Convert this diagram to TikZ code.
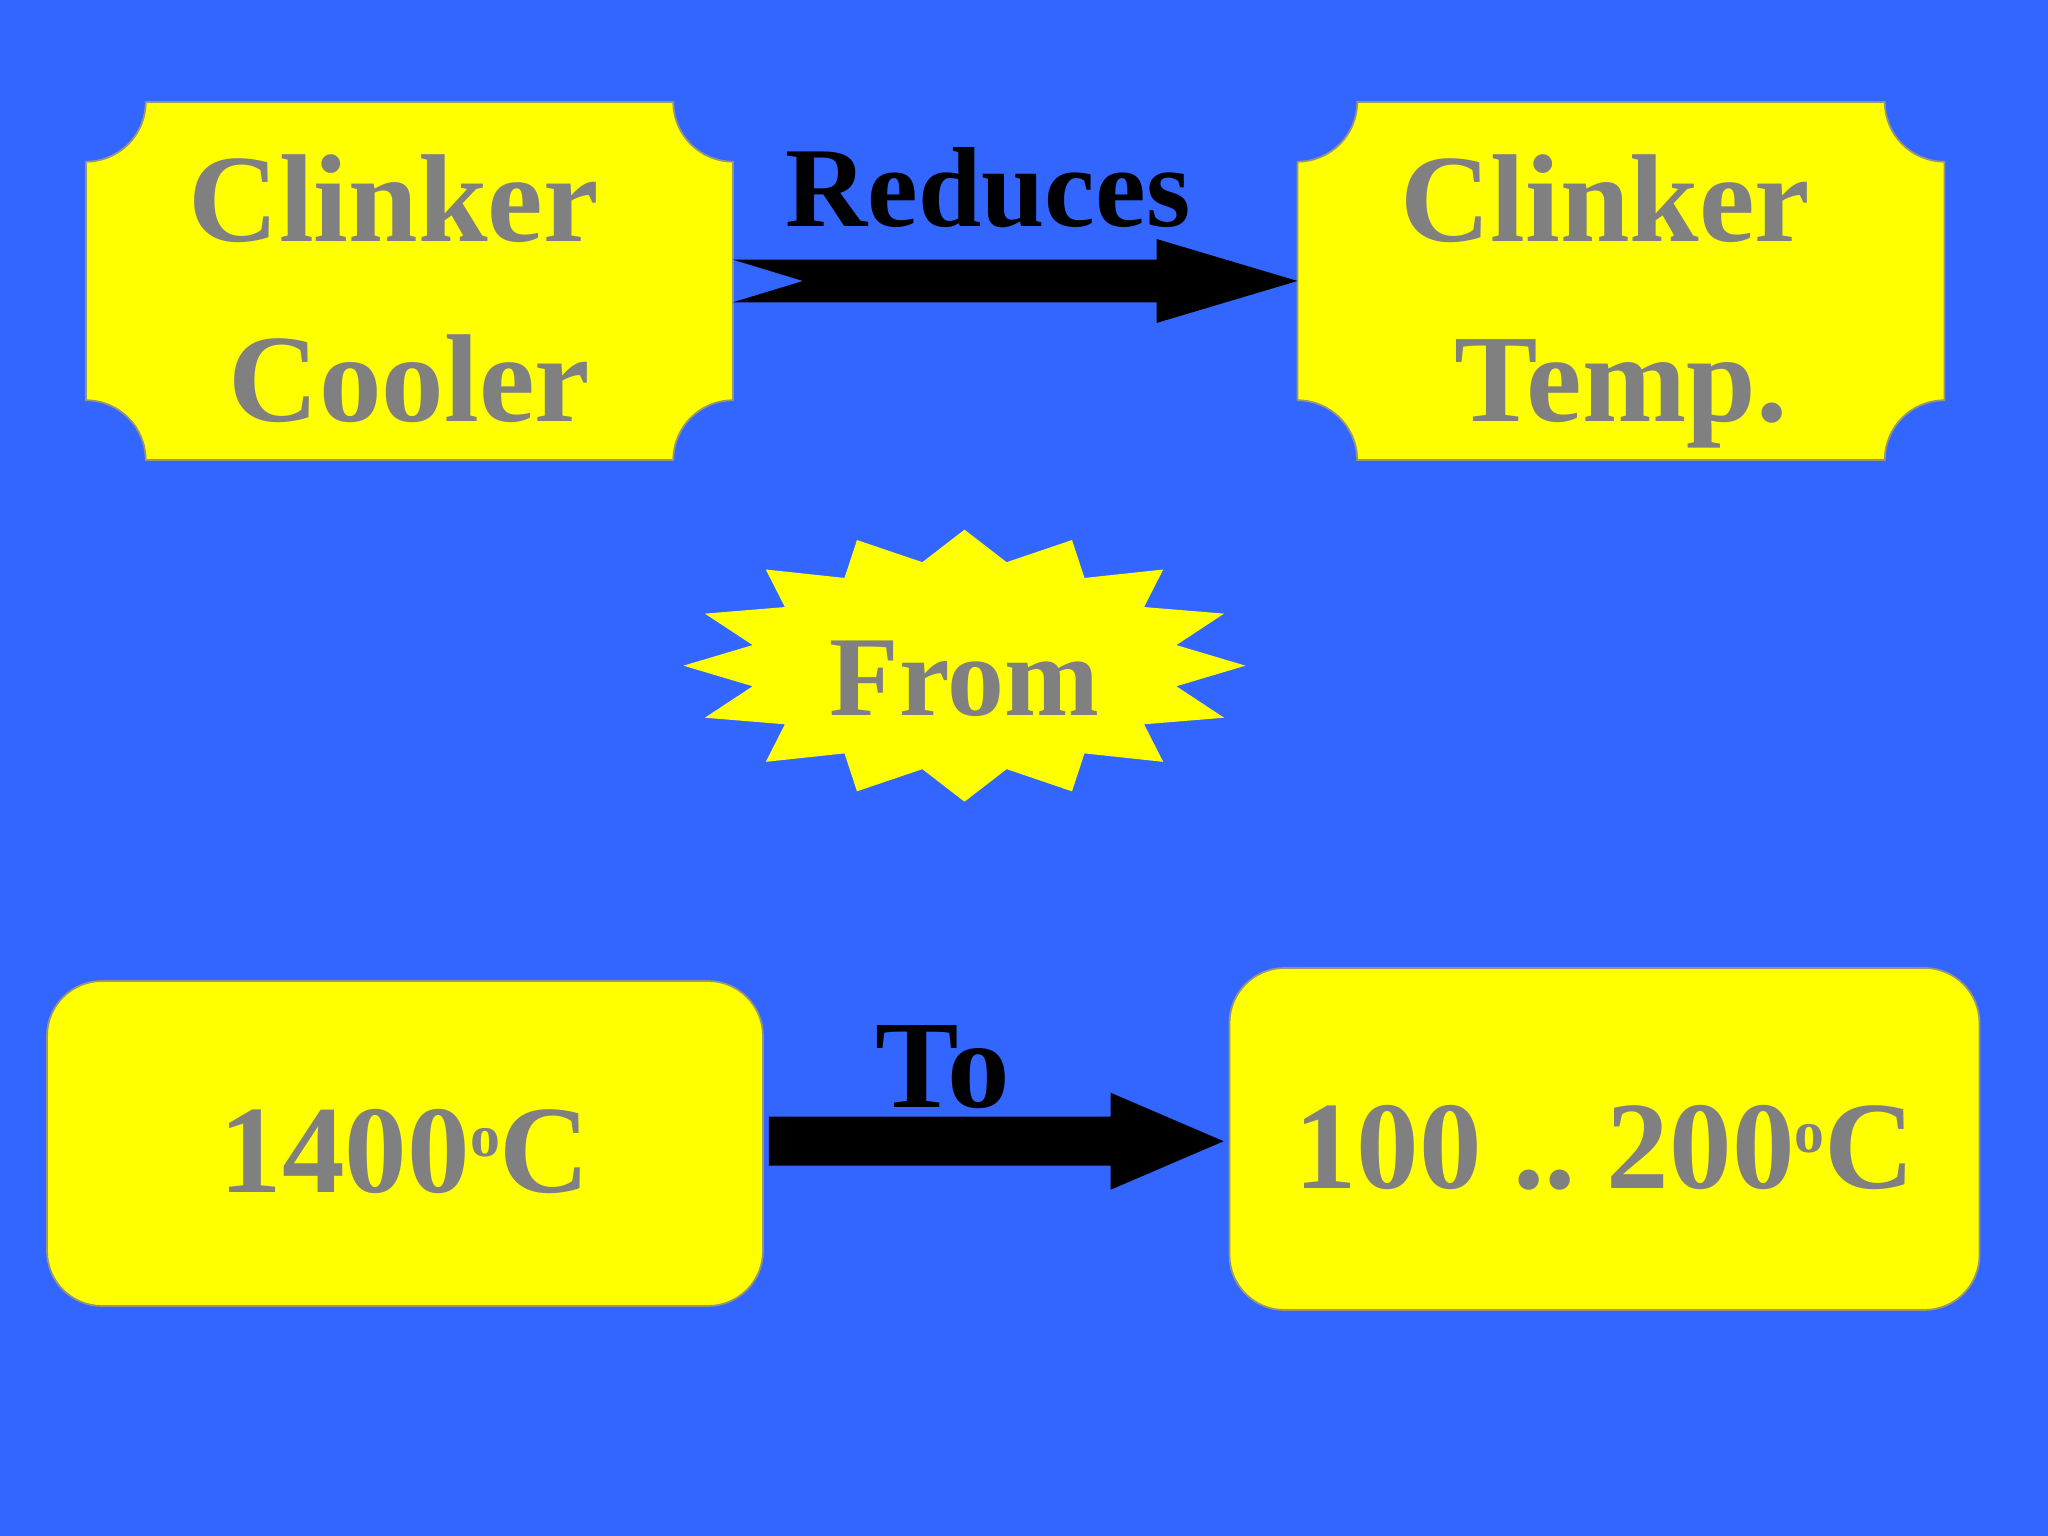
\documentclass[tikz,border=0pt]{standalone}
\usepackage{fontspec}
\setmainfont{Liberation Serif}
\usetikzlibrary{positioning,calc,backgrounds}

\definecolor{slideblue}{RGB}{51,102,255}
\definecolor{boxyellow}{RGB}{255,255,0}
\definecolor{textgrey}{RGB}{128,128,128}
\definecolor{edgegrey}{RGB}{150,150,120}

\begin{document}
\begin{tikzpicture}[auto,
                    node distance=2cm,
                    plaque node/.style={rectangle,inner sep=0pt,outer sep=0pt,
                                        minimum width=6.47cm,minimum height=3.58cm,
                                        align=center,text=textgrey,
                                        text height=2.81cm,text depth=0pt,
                                        font=\fontsize{35.6}{51.2}\selectfont\bfseries},
                    plaque/.style={fill=boxyellow,draw=edgegrey,line width=0.5pt},
                    temp node/.style={rectangle,rounded corners=0.55cm,fill=boxyellow,
                                      draw=edgegrey,line width=0.5pt,inner sep=0pt,
                                      text=textgrey,text height=0.99cm,text depth=0pt,
                                      font=\fontsize{35.6}{42}\selectfont\bfseries\frenchspacing},
                    arrow label/.style={anchor=base,inner sep=0pt,
                                        font=\fontsize{32.4}{38}\selectfont\bfseries},
                    block arrow/.style={fill=black},
                    burst fill/.style={fill=boxyellow}]

  \useasboundingbox (0,0) rectangle (20.48,15.36);

  \node[plaque node] (cooler) at (4.095,12.55) {Clinker\hphantom{\ }\\Cooler};
  \node[plaque node] (temp) [right=5.645cm of cooler] {Clinker\hphantom{\ }\\Temp.};

  \node[temp node,minimum width=7.16cm,minimum height=3.25cm] (hot) at (4.05,3.925)
    {1400\raisebox{0.36cm}{\fontsize{17}{17}\selectfont o}C};
  \node[temp node,minimum width=7.5cm,minimum height=3.42cm] (cold) at (16.045,3.97)
    {100 .. 200\raisebox{0.36cm}{\fontsize{17}{17}\selectfont o}C};

  \node[arrow label] (reduces) at (9.88,13.093) {Reduces};
  \node[arrow label,font=\fontsize{35.6}{42}\selectfont\bfseries] (to) at (9.425,4.28) {To};

  % the star
  \coordinate (burst) at (9.645,8.703);
  \fill[burst fill,shift={(burst)}] plot[samples at={0,...,31}]
    ({(2.81-0.65*mod(\x,2))*cos(\x*11.25)},{(1.36-0.305*mod(\x,2))*sin(\x*11.25)}) -- cycle;
  \node[inner sep=0pt,text=textgrey,text height=0.99cm,text depth=0pt,
        font=\fontsize{32.4}{38}\selectfont\bfseries] (from) at (burst) {From};

  % block arrows
  \fill[block arrow] let \p1=(cooler.east), \p2=(temp.west) in
    (\x1,\y1+0.213cm) -- (\x2-1.41cm,\y1+0.213cm) -- (\x2-1.41cm,\y1+0.42cm) -- (\p2)
    -- (\x2-1.41cm,\y1-0.42cm) -- (\x2-1.41cm,\y1-0.213cm) -- (\x1,\y1-0.213cm)
    -- (\x1+0.7cm,\y1) -- cycle;
  \fill[block arrow] let \p1=(hot.east), \p2=(cold.west), \p3=($(hot.east)!.5!(cold.west)$) in
    (\x1+0.05cm,\y3+0.245cm) -- (\x2-1.18cm,\y3+0.245cm) -- (\x2-1.18cm,\y3+0.485cm)
    -- (\x2-0.05cm,\y3) -- (\x2-1.18cm,\y3-0.485cm) -- (\x2-1.18cm,\y3-0.245cm)
    -- (\x1+0.05cm,\y3-0.245cm) -- cycle;

  \begin{scope}[on background layer]
    \fill[slideblue] (0,0) rectangle (20.48,15.36);
    \foreach \n in {cooler,temp}
      \draw[plaque] ([xshift=0.597cm]\n.north west) -- ([xshift=-0.597cm]\n.north east)
        arc[start angle=180,end angle=270,radius=0.597cm] -- ([yshift=0.597cm]\n.south east)
        arc[start angle=90,end angle=180,radius=0.597cm] -- ([xshift=0.597cm]\n.south west)
        arc[start angle=0,end angle=90,radius=0.597cm] -- ([yshift=-0.597cm]\n.north west)
        arc[start angle=270,end angle=360,radius=0.597cm] -- cycle;
  \end{scope}
\end{tikzpicture}
\end{document}
